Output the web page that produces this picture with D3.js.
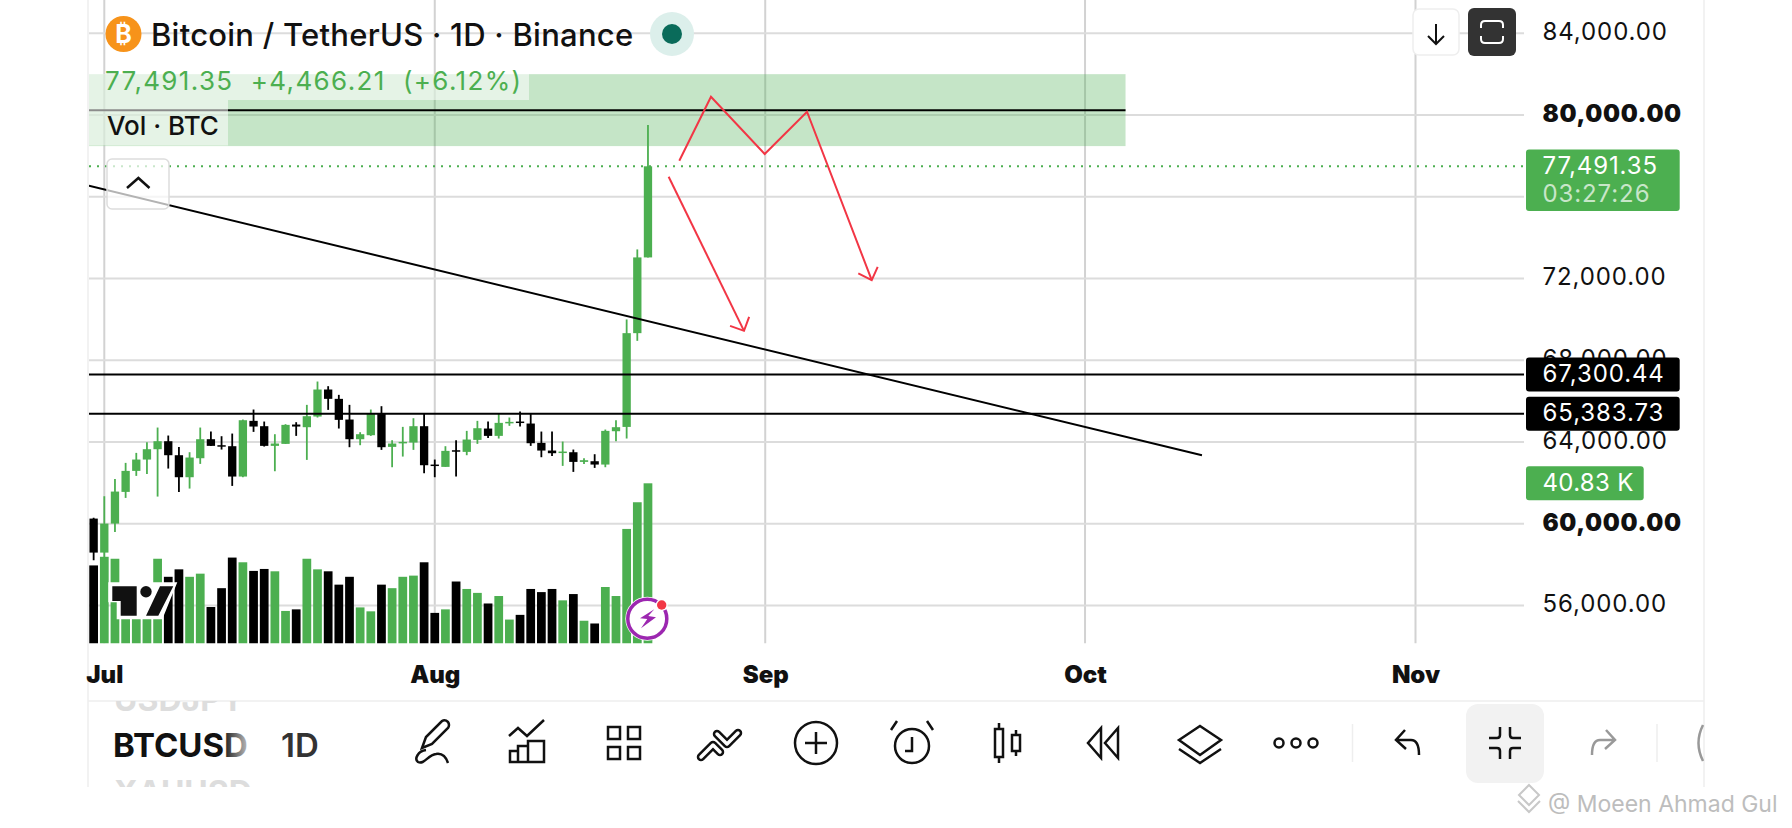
<!DOCTYPE html>
<html>
<head>
<meta charset="utf-8">
<script src="https://cdn.jsdelivr.net/npm/d3@7"></script>
<style>
  html, body { margin: 0; background: #fff; overflow: hidden; }
  text { font-family: Inter, "Noto Sans", sans-serif; white-space: pre; }
</style>
</head>
<body>
<div id="chart"></div>
<script>
// daily candles, first one is the day before Jul 1
const firstDay = -1;
const opens = [60253,58589,60008,61559,62587,63142,63648,64039,63354,62277,63207,64137,63844,63795,62310,65035,64774,63811,63909,64855,64725,65247,66569,66112,65100,64137,64333,65394,63762,63941,63974,64774,62897,62783,63598,63517,64104,64659,64300,64920,65002,64904,63958,63582,63468,63500,63027,63060,62897,64528,64739,69327,73033];
const highs = [60300,61347,62195,62979,63468,63990,64708,64317,63762,63501,64708,64512,64284,64414,65100,65590,65002,64382,64872,64970,65818,66960,66732,66308,65818,64480,65590,65753,64088,64741,65165,65394,63142,63795,64088,64545,65035,65002,65394,65198,65492,65394,64512,64512,64023,63631,63207,63403,64610,65067,69998,73425,79510];
const lows = [58213,58300,59600,61265,62342,62440,61330,62701,61559,61722,62929,63811,63631,61852,62277,64496,63778,62570,63909,64300,63125,65198,65573,64660,63746,63844,64300,63615,62766,63288,63615,62472,62277,62783,62310,63354,63909,64202,64170,64790,64757,63811,63256,63321,62832,62538,62929,62733,62766,64039,64171,68950,73033];
const closes = [58589,60008,61575,62587,63142,63648,64039,63354,62277,63240,64137,63811,63778,62310,65067,64757,63811,63925,64839,64757,65263,66569,66112,65084,64137,64382,65394,63746,63925,64007,64774,62864,62831,63566,63533,64121,64675,64300,64937,64986,64937,63941,63582,63452,63533,63027,63109,62897,64545,64725,69327,73033,77491.35];
const volumes = [19900,22100,21600,10200,11000,11900,21600,17000,18900,17000,17800,9300,14100,21900,20700,18500,19000,18400,8300,8700,21600,18900,18400,15000,17000,9200,8200,15000,14100,17000,17300,20700,7800,8700,15800,13900,12900,10200,12100,6100,7300,13900,13100,13900,11000,12600,5800,5100,14400,12100,29200,36000,40830];

const priceTicks = [84000,80000,76000,72000,68000,64000,60000,56000];
const boldPrices = [80000,60000];
const coveredPrices = [76000]; // sits fully under the last price tag
const monthDays = [0,31,62,92,123];
const monthLabels = ["Jul","Aug","Sep","Oct","Nov"];

const lastPrice = 77491.35;
const levels = [67300.44,65383.73];
const zone = { top: 82000, bottom: 78480, line: 80240, endDay: 95.8 };
// drawings are [day, price]
const trendLine = [[-1.44,76539],[102.97,63354]];
const zigzag = [[53.94,77763],[56.91,80896],[61.95,78091],[65.92,80162],[71.99,71922]];
const zigzagHead = [[70.73,72250],[71.99,71922],[72.55,72573]];
const arrowLine = [[52.94,76979],[60.01,69440]];
const arrowHead = [[58.70,69684],[60.01,69440],[60.49,70125]];

const green = "#4caf50", ink = "#111", gridColor = "#dcdcdc";
const left = 89, right = 1524, axisRight = 1704, plotBottom = 643.5, toolbarTop = 701, pageBottom = 787;

const x = d3.scaleLinear().domain([0,123]).range([104.3,1415.5]);
const y = d3.scaleLinear().domain([56000,84000]).range([605.5,33.3]);
const yVol = d3.scaleLinear().domain([0,40830]).range([plotBottom,483.3]);
const line = d3.line().x(d => x(d[0])).y(d => y(d[1]));

const dayW = x(1) - x(0);
const bars = opens.map((o, i) => ({
  day: firstDay + i, open: o, high: highs[i], low: lows[i], close: closes[i], vol: volumes[i]
}));

const svg = d3.select("#chart").append("svg").attr("width", 1792).attr("height", 828);

svg.append("defs").append("clipPath").attr("id", "plot")
  .append("rect").attr("x", left).attr("y", 0).attr("width", right - left).attr("height", plotBottom);
d3.select("defs").append("clipPath").attr("id", "symbols")
  .append("rect").attr("x", left).attr("y", toolbarTop).attr("width", 170).attr("height", pageBottom - toolbarTop);
const fade = d3.select("defs").append("linearGradient").attr("id", "fade");
fade.append("stop").attr("offset", 0).attr("stop-color", "#fff").attr("stop-opacity", 0);
fade.append("stop").attr("offset", 1).attr("stop-color", "#fff").attr("stop-opacity", 1);

// frame
svg.append("path").attr("fill", "none").attr("stroke", "#eee").attr("stroke-width", 1.5)
  .attr("d", `M${left - 1} 0V${pageBottom}M${axisRight} 0V${pageBottom}M${left - 1} ${toolbarTop}H${axisRight}`);

// grid
const chart = svg.append("g").attr("clip-path", "url(#plot)");
chart.append("g").selectAll("line").data(monthDays).join("line")
  .attr("x1", d => x(d)).attr("x2", d => x(d)).attr("y1", 0).attr("y2", plotBottom)
  .attr("stroke", "#d2d2d2").attr("stroke-width", 2);
chart.append("g").selectAll("line").data(priceTicks).join("line")
  .attr("x1", left).attr("x2", right).attr("y1", d => y(d)).attr("y2", d => y(d))
  .attr("stroke", gridColor).attr("stroke-width", 2);

// volume
chart.append("g").selectAll("rect").data(bars).join("rect")
  .attr("x", d => x(d.day) - dayW * 0.41).attr("width", dayW * 0.82)
  .attr("y", d => yVol(d.vol)).attr("height", d => plotBottom - yVol(d.vol))
  .attr("fill", d => d.close >= d.open ? green : "#000");

// tradingview mark over the volume bars
const logo = svg.append("g");
logo.append("path").attr("fill", "#fff").attr("d", "M108.3 582.3H177.3L162.3 619.3H116.7V602.3H108.3Z");
logo.append("path").attr("fill", "#111").attr("d", "M112.3 586.3H136.7V615.7H120.7V601H112.3ZM160 586.3H173.3L158.3 615.7H146Z");
logo.append("circle").attr("cx", 146).attr("cy", 591.7).attr("r", 5.7).attr("fill", "#111");

// candles
const candles = chart.append("g").selectAll("g").data(bars).join("g")
  .attr("fill", d => d.close >= d.open ? green : "#000")
  .attr("stroke", d => d.close >= d.open ? green : "#000");
candles.append("line")
  .attr("x1", d => x(d.day)).attr("x2", d => x(d.day))
  .attr("y1", d => y(d.high)).attr("y2", d => y(d.low)).attr("stroke-width", 1.8);
candles.append("rect")
  .attr("x", d => x(d.day) - dayW * 0.39).attr("width", dayW * 0.78)
  .attr("y", d => y(Math.max(d.open, d.close)))
  .attr("height", d => Math.max(1.5, Math.abs(y(d.open) - y(d.close))))
  .attr("stroke", "none");

// green zone
chart.append("rect")
  .attr("x", left).attr("width", x(zone.endDay) - left)
  .attr("y", y(zone.top)).attr("height", y(zone.bottom) - y(zone.top))
  .attr("fill", green).attr("fill-opacity", 0.32);
chart.append("line")
  .attr("x1", left).attr("x2", x(zone.endDay)).attr("y1", y(zone.line)).attr("y2", y(zone.line))
  .attr("stroke", "#000").attr("stroke-width", 2);

// last price and level lines
chart.append("line")
  .attr("x1", left).attr("x2", right).attr("y1", y(lastPrice)).attr("y2", y(lastPrice))
  .attr("stroke", green).attr("stroke-width", 2).attr("stroke-dasharray", "2 6");
chart.append("g").selectAll("line").data(levels).join("line")
  .attr("x1", left).attr("x2", right).attr("y1", d => y(d)).attr("y2", d => y(d))
  .attr("stroke", "#000").attr("stroke-width", 2);
chart.append("path").attr("d", line(trendLine)).attr("fill", "none").attr("stroke", "#000").attr("stroke-width", 2);

// red drawings
chart.append("g").attr("fill", "none").attr("stroke", "#f23645").attr("stroke-width", 2)
  .selectAll("path").data([zigzag, zigzagHead, arrowLine, arrowHead]).join("path")
  .attr("d", line);

// price axis
const yAxis = svg.append("g").attr("transform", `translate(${right + 18.5},0)`)
  .call(d3.axisRight(y).tickValues(priceTicks.filter(d => !coveredPrices.includes(d)))
    .tickSize(0).tickPadding(0).tickFormat(d3.format(",.2f")));
yAxis.select(".domain").remove();
yAxis.selectAll("text")
  .attr("font-size", 24).attr("dy", "0.26em").attr("fill", ink)
  .attr("font-family", "Inter")
  .attr("letter-spacing", d => boldPrices.includes(d) ? 0.65 : 0.9)
  .attr("font-weight", d => boldPrices.includes(d) ? 900 : 400);

// time axis
const xAxis = svg.append("g").attr("transform", `translate(0,${plotBottom})`)
  .call(d3.axisBottom(x).tickValues(monthDays).tickSize(0).tickPadding(22)
    .tickFormat((d, i) => monthLabels[i]));
xAxis.select(".domain").remove();
xAxis.selectAll("text").attr("font-size", 24).attr("font-weight", 900).attr("fill", ink).attr("font-family", "Inter");

// price tags
function tagText(str, yPos, color, spacing) {
  return svg.append("text").attr("x", right + 18.5).attr("y", yPos).attr("font-size", 24)
    .attr("letter-spacing", spacing === undefined ? 0.9 : spacing).attr("fill", color || "#fff").text(str);
}
svg.append("rect").attr("x", right + 2).attr("y", 149.5).attr("width", 153.7).attr("height", 61.5).attr("rx", 3).attr("fill", green);
tagText(d3.format(",.2f")(lastPrice), y(lastPrice) + 8);
tagText("03:27:26", 202, "#c8e6c9");
levels.forEach(d => {
  svg.append("rect").attr("x", right + 2).attr("y", y(d) - 17).attr("width", 153.7).attr("height", 34).attr("rx", 3).attr("fill", "#000");
  tagText(d3.format(",.2f")(d), y(d) + 7);
});
svg.append("rect").attr("x", right + 2).attr("y", yVol(40830) - 17).attr("width", 117.7).attr("height", 34).attr("rx", 3).attr("fill", green);
tagText("40.83 K", yVol(40830) + 8, "#fff", 0.3);

// legend
svg.append("circle").attr("cx", 123.5).attr("cy", 34).attr("r", 18).attr("fill", "#f7931a");
svg.append("text").attr("x", 123.5).attr("y", 43).attr("text-anchor", "middle").attr("font-size", 25)
  .attr("font-weight", 700).attr("fill", "#fff").attr("font-family", "DejaVu Sans").text("₿");
svg.append("text").attr("x", 151).attr("y", 46).attr("font-size", 31).attr("font-weight", 500).attr("fill", ink)
  .attr("letter-spacing", 0.25).text("Bitcoin / TetherUS · 1D · Binance");
svg.append("circle").attr("cx", 672).attr("cy", 34).attr("r", 22).attr("fill", "#dcefeb");
svg.append("circle").attr("cx", 672).attr("cy", 34).attr("r", 10).attr("fill", "#0a6b5a");

svg.append("rect").attr("x", left).attr("y", 74).attr("width", 440).attr("height", 26).attr("fill", "#fff").attr("fill-opacity", 0.55);
svg.append("rect").attr("x", left).attr("y", 100).attr("width", 139).attr("height", 45.5).attr("fill", "#fff").attr("fill-opacity", 0.55);
svg.append("text").attr("x", 105).attr("y", 90).attr("font-size", 26).attr("fill", green).attr("letter-spacing", 1.35)
  .text("77,491.35  +4,466.21  (+6.12%)");
svg.append("text").attr("x", 107).attr("y", 135).attr("font-size", 26).attr("font-weight", 500).attr("fill", ink).text("Vol · BTC");

// collapse button
svg.append("rect").attr("x", 107).attr("y", 159).attr("width", 62).attr("height", 50).attr("rx", 5)
  .attr("fill", "#fff").attr("fill-opacity", 0.7).attr("stroke", "#ddd").attr("stroke-width", 1.5);
svg.append("path").attr("d", "M127 188L138.4 178L149.5 188").attr("fill", "none").attr("stroke", ink).attr("stroke-width", 2.5);

// top right buttons
svg.append("rect").attr("x", 1413).attr("y", 9).attr("width", 46).attr("height", 46).attr("rx", 6)
  .attr("fill", "#fff").attr("stroke", "#eee").attr("stroke-width", 1.5);
svg.append("path").attr("transform", "translate(1436,33)").attr("d", "M0 -9V10M-8 3L0 11L8 3")
  .attr("fill", "none").attr("stroke", ink).attr("stroke-width", 2);
svg.append("rect").attr("x", 1468).attr("y", 8).attr("width", 48).attr("height", 48).attr("rx", 6).attr("fill", "#333");
svg.append("path").attr("transform", "translate(1492,32)")
  .attr("d", "M-11 -4V-7Q-11 -11 -7 -11H7Q11 -11 11 -7V-4M-11 4V7Q-11 11 -7 11H7Q11 11 11 7V4")
  .attr("fill", "none").attr("stroke", "#fff").attr("stroke-width", 2);

// lightning badge at the last bar
const badge = svg.append("g");
badge.append("circle").attr("cx", 647.3).attr("cy", 618.7).attr("r", 22).attr("fill", "#fff");
badge.append("circle").attr("cx", 647.3).attr("cy", 618.7).attr("r", 19.5).attr("fill", "#fff")
  .attr("stroke", "#9c27b0").attr("stroke-width", 3.5);
badge.append("path").attr("fill", "#9c27b0").attr("d", "M654.3 609.3L640 618.3L647.3 619L641 628.3L656 617.3L648.3 616Z");
badge.append("circle").attr("cx", 661.7).attr("cy", 605).attr("r", 6).attr("fill", "#fff");
badge.append("circle").attr("cx", 661.7).attr("cy", 605).attr("r", 4.7).attr("fill", "#f23645");

// bottom toolbar
const symbols = svg.append("g").attr("clip-path", "url(#symbols)");
symbols.append("text").attr("x", 114).attr("y", 711).attr("font-size", 32).attr("font-weight", 700).attr("fill", "#ddd").text("USDJPY");
symbols.append("text").attr("x", 114).attr("y", 804).attr("font-size", 32).attr("font-weight", 700).attr("fill", "#ddd").text("XAUUSD");
symbols.append("text").attr("x", 113).attr("y", 757).attr("font-size", 33).attr("font-weight", 700).attr("fill", ink).text("BTCUSD");
svg.append("rect").attr("x", 222).attr("y", 725).attr("width", 36).attr("height", 40).attr("fill", "url(#fade)");
svg.append("text").attr("x", 281).attr("y", 757).attr("font-size", 33).attr("font-weight", 600).attr("fill", "#333").text("1D");

svg.append("rect").attr("x", 1466).attr("y", 704).attr("width", 78).attr("height", 79).attr("rx", 12).attr("fill", "#f2f2f2");
svg.append("path").attr("stroke", "#eee").attr("stroke-width", 1.5).attr("d", "M1352.5 724V762M1657 724V762");

const icons = [
  [432, "M-10 5L-6 -6L10 -22Q13 -24 16 -21Q18 -18 16 -15L0 1ZM-6 7C-14 8 -18 16 -14 19C-8 22 -4 12 4 11C10 10 14 14 16 20"],
  [527, "M-18 -7L-9 -15L0 -7L17 -23M-17 19V8H-9V19ZM-9 19V3H1V19ZM1 19V-2H17V19ZM-17 19H17"],
  [624, "M-16 -16H-4V-4H-16ZM4 -16H16V-4H4ZM-16 4H-4V16H-16ZM4 4H16V16H4Z"],
  [816, "M0 -11V11M-11 0H11"],
  [912, "M-21 -13L-15 -22M21 -13L15 -22M0 -6V8H-7"],
  [1008, "M-9 -20V-14M-9 14V20M8 -13V-8M8 8V13M-13 -14H-5V14H-13ZM4 -8H12V8H4Z"],
  [1104, "M-3 -15L-16 0L-3 15ZM14 -15L1 0L14 15Z"],
  [1200, "M0 -17L21 -3L0 12L-21 -3ZM-21 6L0 20L21 6"],
  [1409, "M-4 -13L-13 -3L-3 6M-12 -3H2Q10 -3 10 12"],
  [1505, "M-5 -16V-8Q-5 -5 -8 -5H-16M5 -16V-8Q5 -5 8 -5H16M-16 5H-8Q-5 5 -5 8V16M16 5H8Q5 5 5 8V16"]
];
const toolbar = svg.append("g").attr("fill", "none").attr("stroke", ink).attr("stroke-width", 2.5);
toolbar.selectAll("path").data(icons).join("path")
  .attr("transform", d => `translate(${d[0]},743)`).attr("d", d => d[1]);
toolbar.append("circle").attr("cx", 816).attr("cy", 743).attr("r", 21);
toolbar.append("circle").attr("cx", 912).attr("cy", 746).attr("r", 17);
toolbar.append("g").selectAll("circle").data([1279, 1296, 1313]).join("circle")
  .attr("cx", d => d).attr("cy", 743).attr("r", 4.5);
// ribbon icon: dark stroke with a white core
[["#111", 8.5], ["#fff", 3.5]].forEach(s => {
  svg.append("path").attr("transform", "translate(720,743)")
    .attr("d", "M-19 14L-7 2L0 9M-3 -9L7 1L18 -10").attr("fill", "none")
    .attr("stroke", s[0]).attr("stroke-width", s[1]).attr("stroke-linecap", "round").attr("stroke-linejoin", "round");
});
svg.append("path").attr("transform", "translate(1602,743)").attr("d", "M4 -13L13 -3L3 6M12 -3H-2Q-10 -3 -10 12")
  .attr("fill", "none").attr("stroke", "#999").attr("stroke-width", 2.5);
svg.append("path").attr("d", "M1703 725Q1694 743 1703 761").attr("fill", "none").attr("stroke", "#999").attr("stroke-width", 2.5);

// watermark
svg.append("path").attr("d", "M1529 785L1539 795L1529 805L1519 795ZM1518 801L1529 812L1540 801").attr("fill", "none").attr("stroke", "#c8c8c8").attr("stroke-width", 2);
svg.append("text").attr("x", 1548).attr("y", 812).attr("font-size", 23).attr("fill", "#bdbdbd").text("@ Moeen Ahmad Gul");
</script>
</body>
</html>
